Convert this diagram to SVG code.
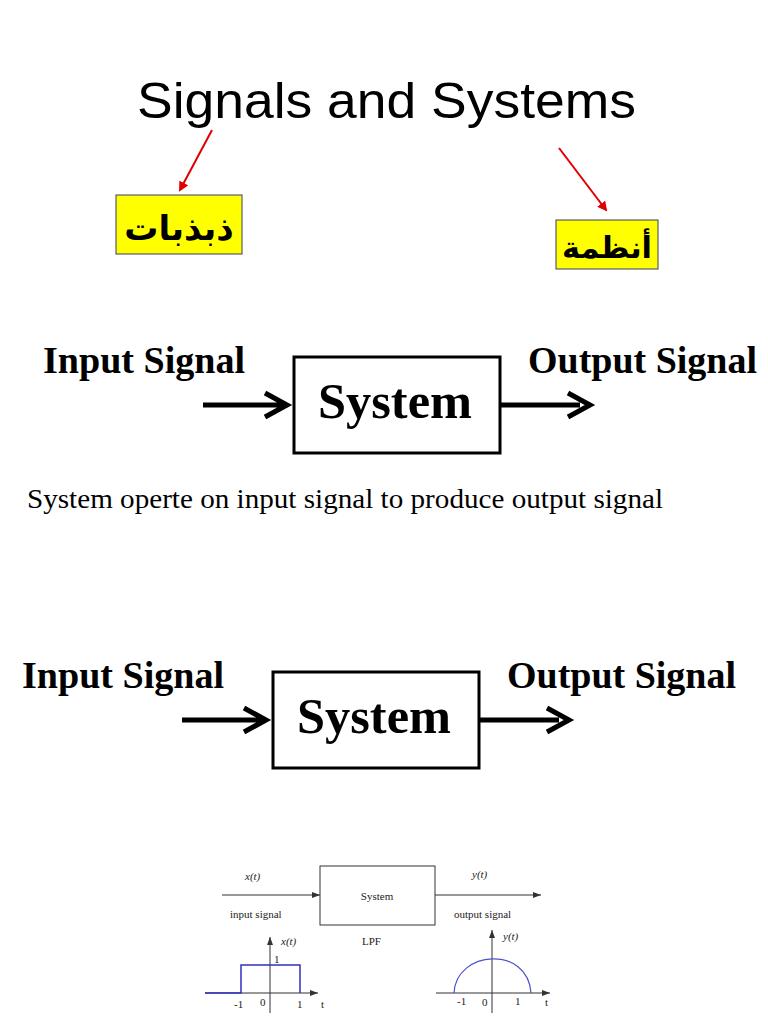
<svg xmlns="http://www.w3.org/2000/svg" width="768" height="1024" viewBox="0 0 768 1024">
<style>
.t{font-family:"Liberation Serif",serif;font-weight:bold;fill:#000}
.ar{font-family:"DejaVu Sans","Noto Sans",sans-serif;font-weight:bold}
.s{font-family:"Liberation Serif",serif;font-size:11px;fill:#222}
.thick{stroke:#000;stroke-width:5;fill:none}
.thin{stroke:#333;stroke-width:1;fill:none}
</style>
<defs>
<marker id="red" markerWidth="10" markerHeight="10" refX="8" refY="5" orient="auto" markerUnits="userSpaceOnUse"><path d="M0,0 L10,5 L0,10 z" fill="#e00000"/></marker>
<marker id="sm" markerWidth="8" markerHeight="6" refX="8" refY="3" orient="auto" markerUnits="userSpaceOnUse"><path d="M0,0 L8,3 L0,6 z" fill="#333"/></marker>
</defs>
<rect width="768" height="1024" fill="#fff"/>
<text x="137" y="118" font-family="Liberation Sans,sans-serif" font-size="50" textLength="499" lengthAdjust="spacingAndGlyphs">Signals and Systems</text>
<g id="n1"><rect x="116" y="195" width="126" height="59" fill="#ffff00" stroke="#3a3a6a" stroke-width="1"/><text class="ar" x="179" y="240" font-size="34" text-anchor="middle">ذبذبات</text></g>
<g id="n2"><rect x="556" y="220" width="102" height="49" fill="#ffff00" stroke="#3a3a6a" stroke-width="1"/><text class="ar" x="607" y="258" font-size="30" text-anchor="middle" textLength="90" lengthAdjust="spacingAndGlyphs">أنظمة</text></g>
<g id="connectors">
<line x1="212" y1="130" x2="180" y2="190" stroke="#e00000" stroke-width="2" marker-end="url(#red)"/>
<line x1="559" y1="148" x2="606" y2="210" stroke="#e00000" stroke-width="2" marker-end="url(#red)"/>
<path class="thick" d="M203,405 H285 M265,393 L287,405 L265,417"/>
<path class="thick" d="M500,405 H580 M568,393 L590,405 L568,417"/>
<path class="thick" d="M182,720 H264 M244,708 L266,720 L244,732"/>
<path class="thick" d="M479,720 H559 M547,708 L569,720 L547,732"/>
<line class="thin" x1="222" y1="895" x2="320" y2="895" marker-end="url(#sm)"/>
<line class="thin" x1="435" y1="895" x2="541" y2="895" marker-end="url(#sm)"/>
</g>
<text class="t" x="43" y="373" font-size="37" textLength="202" lengthAdjust="spacingAndGlyphs">Input Signal</text>
<text class="t" x="528" y="373" font-size="37" textLength="229" lengthAdjust="spacingAndGlyphs">Output Signal</text>
<g id="sys1"><rect x="294" y="357" width="206" height="96" fill="#fff" stroke="#000" stroke-width="3"/><text class="t" x="395" y="418" font-size="50" text-anchor="middle" textLength="154" lengthAdjust="spacingAndGlyphs">System</text></g>
<text x="27" y="508" font-family="Liberation Serif,serif" font-size="27" textLength="636" lengthAdjust="spacingAndGlyphs">System operte on input signal to produce output signal</text>
<text class="t" x="22" y="688" font-size="37" textLength="202" lengthAdjust="spacingAndGlyphs">Input Signal</text>
<text class="t" x="507" y="688" font-size="37" textLength="229" lengthAdjust="spacingAndGlyphs">Output Signal</text>
<g id="sys2"><rect x="273" y="672" width="206" height="96" fill="#fff" stroke="#000" stroke-width="3"/><text class="t" x="374" y="733" font-size="50" text-anchor="middle" textLength="154" lengthAdjust="spacingAndGlyphs">System</text></g>
<g id="small">
<rect x="320" y="866" width="115" height="59" fill="#fff" stroke="#333"/>
<text class="s" x="377" y="900" text-anchor="middle">System</text>
<text class="s" x="245" y="880" font-style="italic">x(t)</text>
<text class="s" x="472" y="878" font-style="italic">y(t)</text>
<text class="s" x="230" y="918">input signal</text>
<text class="s" x="454" y="918">output signal</text>
<text class="s" x="362" y="945">LPF</text>
<line class="thin" x1="205" y1="993" x2="318" y2="993" marker-end="url(#sm)"/>
<line class="thin" x1="270" y1="1013" x2="270" y2="937" marker-end="url(#sm)"/>
<path d="M205,993 H241 V965 H300 V993" fill="none" stroke="#3030c0" stroke-width="1.5"/>
<text class="s" x="281" y="945" font-style="italic">x(t)</text>
<text class="s" x="274" y="963" font-family="Liberation Sans,sans-serif">1</text>
<text class="s" x="234" y="1008" font-family="Liberation Sans,sans-serif">-1</text>
<text class="s" x="260" y="1006" font-family="Liberation Sans,sans-serif">0</text>
<text class="s" x="297" y="1008" font-family="Liberation Sans,sans-serif">1</text>
<text class="s" x="321" y="1008">t</text>
<line class="thin" x1="436" y1="993" x2="550" y2="993" marker-end="url(#sm)"/>
<line class="thin" x1="492" y1="1013" x2="492" y2="930" marker-end="url(#sm)"/>
<path d="M454,993 C456,950 528,945 531,993" fill="none" stroke="#5050d0" stroke-width="1.2"/>
<text class="s" x="503" y="940" font-style="italic">y(t)</text>
<text class="s" x="457" y="1005" font-family="Liberation Sans,sans-serif">-1</text>
<text class="s" x="482" y="1006" font-family="Liberation Sans,sans-serif">0</text>
<text class="s" x="515" y="1005" font-family="Liberation Sans,sans-serif">1</text>
<text class="s" x="545" y="1006">t</text>
</g>
</svg>
